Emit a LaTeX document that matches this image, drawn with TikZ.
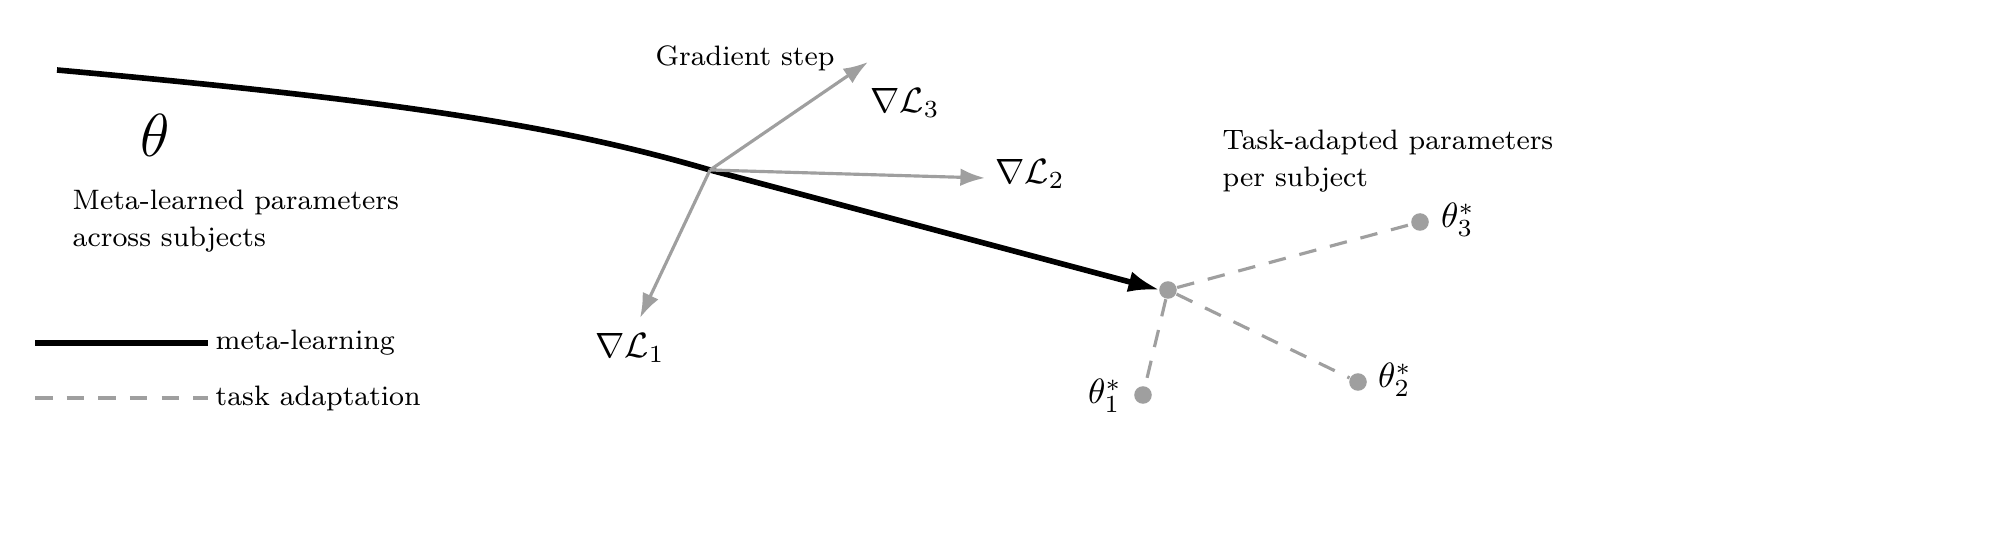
\documentclass[tikz,border=0pt]{standalone}
\usepackage{amsmath}
\usepackage{amssymb}
\usetikzlibrary{positioning,arrows.meta}
\tikzset{
  txt/.style={font=\fontsize{8}{10.5}\selectfont, align=left, inner sep=0pt},
  grad/.style={draw=gray!75, line width=0.9pt, -{Latex[length=7pt,width=5pt]}},
  adapt/.style={draw=gray!75, line width=0.9pt, dash pattern=on 5pt off 4pt},
  pt/.style={circle, fill=gray!75, inner sep=0pt, minimum size=5pt},
}
\begin{document}
\begin{tikzpicture}
        \useasboundingbox (0,0) rectangle (20.06,5.46);
        \coordinate (start) at (0.57,4.76);
        \coordinate (mid) at (7.10,3.76);
        \node[pt] (c) at (11.68,2.56) {};
        \draw[line width=1.6pt, -{Latex[length=9pt,width=6pt]}] (start) .. controls (4,4.45) and (5.6,4.2) .. (mid) -- (11.6,2.56);
        \node[font=\fontsize{16}{18}\selectfont] (theta) at (1.55,4.11) {$\theta$};
        \node[txt, anchor=west] (meta) at (0.72,3.25) {Meta-learned parameters\\across subjects};
        \node[txt, anchor=west] (gs) at (6.55,4.88) {Gradient step};
        \coordinate (g3) at (8.68,4.84);
        \coordinate (g2) at (9.85,3.68);
        \coordinate (g1) at (6.40,2.28);
        \draw[grad] (mid) -- (g3);
        \draw[grad] (mid) -- (g2);
        \draw[grad] (mid) -- (g1);
        \node[font=\fontsize{10}{12}\selectfont] (l3) at (9.05,4.43) {$\nabla\mathcal{L}_3$};
        \node[font=\fontsize{10}{12}\selectfont] (l2) at (10.3,3.72) {$\nabla\mathcal{L}_2$};
        \node[font=\fontsize{10}{12}\selectfont] (l1) at (6.3,1.98) {$\nabla\mathcal{L}_1$};
        \node[txt, anchor=west] (task) at (12.22,3.85) {Task-adapted parameters\\per subject};
        \node[pt] (p3) at (14.2,3.24) {};
        \node[pt] (p2) at (13.58,1.64) {};
        \node[pt] (p1) at (11.43,1.51) {};
        \draw[adapt] (c) -- (p3);
        \draw[adapt] (c) -- (p2);
        \draw[adapt] (c) -- (p1);
        \node[font=\fontsize{10}{12}\selectfont] (t3) at (14.58,3.26) {$\theta_3^*$};
        \node[font=\fontsize{10}{12}\selectfont] (t2) at (13.95,1.66) {$\theta_2^*$};
        \node[font=\fontsize{10}{12}\selectfont] (t1) at (11.05,1.5) {$\theta_1^*$};
        % legend
        \coordinate (a1) at (0.35,2.03);
        \coordinate (b1) at (2.08,2.03);
        \coordinate (a2) at (0.35,1.48);
        \coordinate (b2) at (2.08,1.48);
        \draw[line width=1.6pt] (a1) -- (b1);
        \draw[adapt] (a2) -- (b2);
        \node[txt, anchor=west] (lm) at (2.15,2.03) {meta-learning};
        \node[txt, anchor=west] (lt) at (2.15,1.48) {task adaptation};
\end{tikzpicture}
\end{document}
